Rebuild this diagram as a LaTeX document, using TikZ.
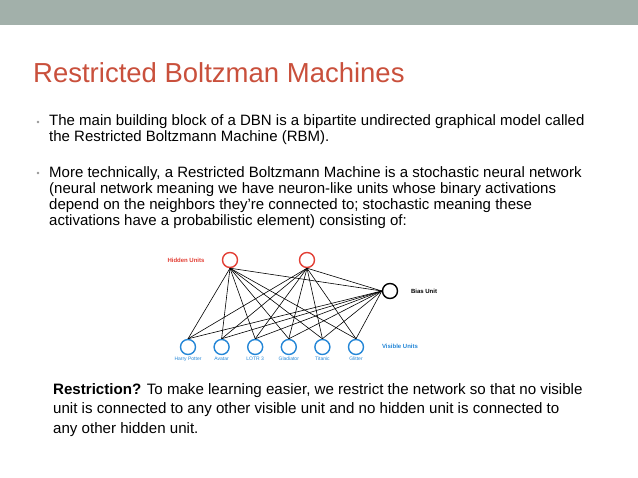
\documentclass[tikz,border=0pt]{standalone}
\usepackage{fontspec}
\setmainfont{Liberation Sans}
\usepackage{xcolor}
\usetikzlibrary{positioning}

\definecolor{bandgray}{RGB}{162,176,170}
\definecolor{titlered}{RGB}{201,80,60}
\definecolor{hidred}{RGB}{226,62,52}
\definecolor{visblue}{RGB}{36,134,214}
\definecolor{bulletgray}{RGB}{150,150,150}

\tikzset{
	unit/.style={circle, draw, line width=1.4pt, minimum size=15pt, inner sep=0pt},
	tinylabel/.style={font=\fontsize{5}{6}\selectfont},
	grouplabel/.style={font=\fontsize{6}{7}\selectfont\bfseries},
	bodytext/.style={anchor=base west, inner sep=0pt, align=left, font=\fontsize{15}{16}\selectfont},
	bulletdot/.style={circle, fill=bulletgray, inner sep=0pt, minimum size=2.6pt},
	link/.style={line width=0.6pt}
}

\begin{document}
\begin{tikzpicture}[x=1pt,y=-1pt]
	\useasboundingbox (0,0) rectangle (638,478);
	\fill [bandgray] (0,0) rectangle (638,25);
	
	% Title and text (base anchor sits on the last line)
	\node (title) at (33,83) [anchor=base west, inner sep=0pt, titlered, font=\fontsize{27.5}{30}\selectfont] {Restricted Boltzman Machines};
	
	\node (dot1) at (38,122) [bulletdot] {};
	\node (item1) at (49,142) [bodytext] {The main building block of a DBN is a bipartite undirected graphical model called\\the Restricted Boltzmann Machine (RBM).};
	\node (dot2) at (38,173) [bulletdot] {};
	\node (item2) at (49,225.5) [bodytext] {More technically, a Restricted Boltzmann Machine is a stochastic neural network\\(neural network meaning we have neuron-like units whose binary activations\\depend on the neighbors they’re connected to; stochastic meaning these\\activations have a probabilistic element) consisting of:};
	
	\node (restr) at (53,433.5) [bodytext, font=\fontsize{15.1}{19.5}\selectfont] {\textbf{Restriction?} To make learning easier, we restrict the network so that no visible\\unit is connected to any other visible unit and no hidden unit is connected to\\any other hidden unit.};
	
	% Units
	\node (h1) at (230,260) [unit, hidred] {};
	\node (h2) at (307,260) [unit, hidred] {};
	\node (b) at (390,291) [unit, black] {};
	\foreach \i/\film in {1/Harry Potter,2/Avatar,3/LOTR 3,4/Gladiator,5/Titanic,6/Glitter} {
		\node (v\i) at ({188+33.6*(\i-1)},347) [unit, visblue] {};
		\node (f\i) [below=1.5pt of v\i, tinylabel, visblue, inner sep=0pt] {\film};
	}
	
	\node (hlab) at (186,260) [grouplabel, hidred] {Hidden Units};
	\node (blab) at (424,291) [grouplabel, black] {Bias Unit};
	\node (vlab) at (400,346) [grouplabel, visblue] {Visible Units};
	
	% Connections
	\foreach \i in {1,...,6} {
		\draw [link] (h1.south) -- (v\i.north);
		\draw [link] (h2.south) -- (v\i.north);
		\draw [link] (b.west) -- (v\i.north);
	}
	\draw [link] (h1.south) -- (b.west);
	\draw [link] (h2.south) -- (b.west);
\end{tikzpicture}
\end{document}
